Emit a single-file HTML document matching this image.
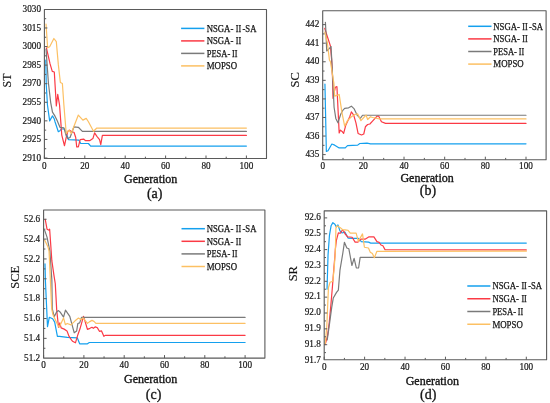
<!DOCTYPE html><html><head><meta charset="utf-8"><style>html,body{margin:0;padding:0;background:#fff;}svg{display:block;filter:blur(0.3px);}</style></head><body>
<svg width="550" height="403" viewBox="0 0 550 403" font-family='"Liberation Serif", serif' stroke-linejoin="round">
<style>text{stroke:#141414;stroke-width:0.2px;}.xl{stroke-width:0.35px}.ti{stroke-width:0.3px}.yl{stroke-width:0.15px}.lg{stroke-width:0.25px}</style>
<rect width="550" height="403" fill="#fff"/>
<g><polyline points="45.81,60.17 46.22,83.7 47.43,104.75 49.65,120.85 52.48,115.9 54.3,118.99 55,121.72 58.34,131.75 59.95,130.76 61.17,129.02 64.5,129.02 66.22,132.86 68.44,139.55 78.94,140.17 80.76,143.51 88.44,143.51 90.66,146.11 246.4,146.11" fill="none" stroke="#14a0ee" stroke-width="1.2" stroke-linejoin="round" stroke-linecap="round"/><polyline points="46.42,47.79 50.06,63.89 52.28,71.32 54.3,72.06 56.32,105.99 57.73,94.35 59.55,105 61.77,135.09 64.5,145.74 66.22,137.44 67.83,131.25 69.45,130.14 71.67,131.75 73.99,132.24 75.71,137.44 76.72,146.85 78.34,146.85 80.15,139.55 83.59,139.05 85.61,140.66 89.65,140.66 92.88,138.56 94.6,132.86 96.92,136.33 99.55,139.55 100.76,144.63 102.37,135.46 246.4,135.46" fill="none" stroke="#fb3a45" stroke-width="1.2" stroke-linejoin="round" stroke-linecap="round"/><polyline points="46.02,49.03 48.44,83.2 50.66,102.28 52.48,112.18 55,116.14 57.13,120.6 59.95,127.29 63.89,127.91 66.22,135.71 67.83,138.56 70.05,137.44 73.99,126.79 78.34,127.29 82.38,131.38 246.4,131.38" fill="none" stroke="#7a7a7a" stroke-width="1.2" stroke-linejoin="round" stroke-linecap="round"/><polyline points="46.02,24.01 47.63,47.79 49.65,46.8 53.89,38.5 56.32,41.72 58.34,64.63 60.36,82.46 62.38,83.45 63.89,105 66.22,133.48 69.04,130.14 71.27,133.48 73.99,126.17 78.34,115.03 82.88,120.11 86.21,118.37 88.44,121.72 93.49,131.25 96.82,128.03 246.4,128.03" fill="none" stroke="#fcc063" stroke-width="1.2" stroke-linejoin="round" stroke-linecap="round"/><rect x="44.4" y="9.5" width="222.1" height="149" fill="none" stroke="#5a5a5a" stroke-width="1.1"/><line x1="44.4" y1="158.5" x2="44.4" y2="155.5" stroke="#5a5a5a" stroke-width="1"/><text x="44.4" y="168.6" font-size="10.2" fill="#141414" text-anchor="middle" textLength="4.6" lengthAdjust="spacingAndGlyphs">0</text><line x1="64.6" y1="158.5" x2="64.6" y2="156.7" stroke="#5a5a5a" stroke-width="1"/><line x1="84.8" y1="158.5" x2="84.8" y2="155.5" stroke="#5a5a5a" stroke-width="1"/><text x="84.8" y="168.6" font-size="10.2" fill="#141414" text-anchor="middle" textLength="9.2" lengthAdjust="spacingAndGlyphs">20</text><line x1="105" y1="158.5" x2="105" y2="156.7" stroke="#5a5a5a" stroke-width="1"/><line x1="125.2" y1="158.5" x2="125.2" y2="155.5" stroke="#5a5a5a" stroke-width="1"/><text x="125.2" y="168.6" font-size="10.2" fill="#141414" text-anchor="middle" textLength="9.2" lengthAdjust="spacingAndGlyphs">40</text><line x1="145.4" y1="158.5" x2="145.4" y2="156.7" stroke="#5a5a5a" stroke-width="1"/><line x1="165.6" y1="158.5" x2="165.6" y2="155.5" stroke="#5a5a5a" stroke-width="1"/><text x="165.6" y="168.6" font-size="10.2" fill="#141414" text-anchor="middle" textLength="9.2" lengthAdjust="spacingAndGlyphs">60</text><line x1="185.8" y1="158.5" x2="185.8" y2="156.7" stroke="#5a5a5a" stroke-width="1"/><line x1="206" y1="158.5" x2="206" y2="155.5" stroke="#5a5a5a" stroke-width="1"/><text x="206" y="168.6" font-size="10.2" fill="#141414" text-anchor="middle" textLength="9.2" lengthAdjust="spacingAndGlyphs">80</text><line x1="226.2" y1="158.5" x2="226.2" y2="156.7" stroke="#5a5a5a" stroke-width="1"/><line x1="246.4" y1="158.5" x2="246.4" y2="155.5" stroke="#5a5a5a" stroke-width="1"/><text x="246.4" y="168.6" font-size="10.2" fill="#141414" text-anchor="middle" textLength="13.8" lengthAdjust="spacingAndGlyphs">100</text><line x1="44.4" y1="18.69" x2="46.2" y2="18.69" stroke="#5a5a5a" stroke-width="1"/><line x1="44.4" y1="27.98" x2="47.4" y2="27.98" stroke="#5a5a5a" stroke-width="1"/><line x1="44.4" y1="37.26" x2="46.2" y2="37.26" stroke="#5a5a5a" stroke-width="1"/><line x1="44.4" y1="46.55" x2="47.4" y2="46.55" stroke="#5a5a5a" stroke-width="1"/><line x1="44.4" y1="55.84" x2="46.2" y2="55.84" stroke="#5a5a5a" stroke-width="1"/><line x1="44.4" y1="65.12" x2="47.4" y2="65.12" stroke="#5a5a5a" stroke-width="1"/><line x1="44.4" y1="74.41" x2="46.2" y2="74.41" stroke="#5a5a5a" stroke-width="1"/><line x1="44.4" y1="83.7" x2="47.4" y2="83.7" stroke="#5a5a5a" stroke-width="1"/><line x1="44.4" y1="92.99" x2="46.2" y2="92.99" stroke="#5a5a5a" stroke-width="1"/><line x1="44.4" y1="102.28" x2="47.4" y2="102.28" stroke="#5a5a5a" stroke-width="1"/><line x1="44.4" y1="111.56" x2="46.2" y2="111.56" stroke="#5a5a5a" stroke-width="1"/><line x1="44.4" y1="120.85" x2="47.4" y2="120.85" stroke="#5a5a5a" stroke-width="1"/><line x1="44.4" y1="130.14" x2="46.2" y2="130.14" stroke="#5a5a5a" stroke-width="1"/><line x1="44.4" y1="139.43" x2="47.4" y2="139.43" stroke="#5a5a5a" stroke-width="1"/><line x1="44.4" y1="148.71" x2="46.2" y2="148.71" stroke="#5a5a5a" stroke-width="1"/><line x1="44.4" y1="158" x2="47.4" y2="158" stroke="#5a5a5a" stroke-width="1"/><text x="41" y="12.1" font-size="10.2" fill="#141414" text-anchor="end" textLength="18.4" lengthAdjust="spacingAndGlyphs">3030</text><text x="41" y="30.68" font-size="10.2" fill="#141414" text-anchor="end" textLength="18.4" lengthAdjust="spacingAndGlyphs">3015</text><text x="41" y="49.25" font-size="10.2" fill="#141414" text-anchor="end" textLength="18.4" lengthAdjust="spacingAndGlyphs">3000</text><text x="41" y="67.83" font-size="10.2" fill="#141414" text-anchor="end" textLength="18.4" lengthAdjust="spacingAndGlyphs">2985</text><text x="41" y="86.4" font-size="10.2" fill="#141414" text-anchor="end" textLength="18.4" lengthAdjust="spacingAndGlyphs">2970</text><text x="41" y="104.98" font-size="10.2" fill="#141414" text-anchor="end" textLength="18.4" lengthAdjust="spacingAndGlyphs">2955</text><text x="41" y="123.55" font-size="10.2" fill="#141414" text-anchor="end" textLength="18.4" lengthAdjust="spacingAndGlyphs">2940</text><text x="41" y="142.12" font-size="10.2" fill="#141414" text-anchor="end" textLength="18.4" lengthAdjust="spacingAndGlyphs">2925</text><text x="41" y="160.7" font-size="10.2" fill="#141414" text-anchor="end" textLength="18.4" lengthAdjust="spacingAndGlyphs">2910</text><text x="0" y="0" font-size="12.0" fill="#141414" text-anchor="middle" transform="translate(6.9,80.5) rotate(-90)" dy="4.3" class="yl">ST</text><text x="150.7" y="182.9" font-size="12.0" fill="#141414" text-anchor="middle" class="xl">Generation</text><text x="154.7" y="197.5" font-size="14.0" fill="#141414" text-anchor="middle" class="ti">(a)</text><line x1="181.1" y1="28.4" x2="204.4" y2="28.4" stroke="#14a0ee" stroke-width="1.5"/><text x="206.7" y="31.7" font-size="10.0" fill="#141414" textLength="26.6" lengthAdjust="spacingAndGlyphs" class="lg">NSGA-</text><text x="235.7" y="31.7" font-size="10.0" fill="#141414" textLength="5.4" lengthAdjust="spacingAndGlyphs" class="lg">II</text><text x="242.5" y="31.7" font-size="10.0" fill="#141414" textLength="13.9" lengthAdjust="spacingAndGlyphs" class="lg">-SA</text><line x1="181.1" y1="40.9" x2="204.4" y2="40.9" stroke="#fb3a45" stroke-width="1.5"/><text x="206.7" y="44.2" font-size="10.0" fill="#141414" textLength="26.6" lengthAdjust="spacingAndGlyphs" class="lg">NSGA-</text><text x="235.7" y="44.2" font-size="10.0" fill="#141414" textLength="5.4" lengthAdjust="spacingAndGlyphs" class="lg">II</text><line x1="181.1" y1="53.4" x2="204.4" y2="53.4" stroke="#7a7a7a" stroke-width="1.5"/><text x="206.7" y="56.7" font-size="10.0" fill="#141414" textLength="23.6" lengthAdjust="spacingAndGlyphs" class="lg">PESA-</text><text x="232.1" y="56.7" font-size="10.0" fill="#141414" textLength="5.4" lengthAdjust="spacingAndGlyphs" class="lg">II</text><line x1="181.1" y1="65.9" x2="204.4" y2="65.9" stroke="#fcc063" stroke-width="1.5"/><text x="206.7" y="69.2" font-size="10.0" fill="#141414" textLength="30.4" lengthAdjust="spacingAndGlyphs" class="lg">MOPSO</text></g>
<g><polyline points="324.94,84.05 326.36,151.46 327.99,150.72 331.85,144.03 334.69,145.15 339.17,147.93 345.27,147.93 347.5,145.7 357.67,145.15 359.8,143.48 367.02,143.1 370.48,143.85 526,143.85" fill="none" stroke="#14a0ee" stroke-width="1.2" stroke-linejoin="round" stroke-linecap="round"/><polyline points="324.73,28.34 330.43,45.98 331.65,59.91 332.46,75.7 333.01,98.35 335.3,87.21 336.93,86.65 339.17,132.89 340.39,130.11 342.42,131.78 343.64,133.45 345.88,124.91 349.74,116.73 351.37,111.91 353.7,115.06 355.94,122.86 358.07,133.45 361.53,134.93 363.77,134 365.39,126.76 367.63,124.53 369.87,123.98 372.51,121.19 377.08,116.18 378.61,115.99 381.45,121.75 385.52,123.42 526,123.42" fill="none" stroke="#fb3a45" stroke-width="1.2" stroke-linejoin="round" stroke-linecap="round"/><polyline points="325.4,22.4 325.95,32.24 326.71,51 329.21,48.58 331.04,46.54 331.85,61.77 333.01,84.98 334.08,107.26 335.81,118.41 337.95,122.86 340.79,113.95 343.03,110.05 344.66,108.38 348.62,107.82 351.37,106.15 354.21,108.94 357.06,115.06 360.31,118.41 362.55,115.25 526,115.25" fill="none" stroke="#7a7a7a" stroke-width="1.2" stroke-linejoin="round" stroke-linecap="round"/><polyline points="324.73,32.06 327.29,42.27 329.41,59.91 330.43,61.77 333.88,83.12 334.69,96.12 339.17,94.45 342.01,112.84 344.66,126.21 347.5,120.63 351.37,116.73 354.82,114.51 357.67,113.95 360.92,120.63 363.77,117.48 366,115.06 367.63,119.52 370.48,116.73 372.51,117.48 377.08,118.41 379.42,118.96 526,118.96" fill="none" stroke="#fcc063" stroke-width="1.2" stroke-linejoin="round" stroke-linecap="round"/><rect x="322.7" y="10.7" width="223.4" height="149" fill="none" stroke="#5a5a5a" stroke-width="1.1"/><line x1="322.7" y1="159.7" x2="322.7" y2="156.7" stroke="#5a5a5a" stroke-width="1"/><text x="322.7" y="169.4" font-size="10.2" fill="#141414" text-anchor="middle" textLength="4.6" lengthAdjust="spacingAndGlyphs">0</text><line x1="343.03" y1="159.7" x2="343.03" y2="157.9" stroke="#5a5a5a" stroke-width="1"/><line x1="363.36" y1="159.7" x2="363.36" y2="156.7" stroke="#5a5a5a" stroke-width="1"/><text x="363.36" y="169.4" font-size="10.2" fill="#141414" text-anchor="middle" textLength="9.2" lengthAdjust="spacingAndGlyphs">20</text><line x1="383.69" y1="159.7" x2="383.69" y2="157.9" stroke="#5a5a5a" stroke-width="1"/><line x1="404.02" y1="159.7" x2="404.02" y2="156.7" stroke="#5a5a5a" stroke-width="1"/><text x="404.02" y="169.4" font-size="10.2" fill="#141414" text-anchor="middle" textLength="9.2" lengthAdjust="spacingAndGlyphs">40</text><line x1="424.35" y1="159.7" x2="424.35" y2="157.9" stroke="#5a5a5a" stroke-width="1"/><line x1="444.68" y1="159.7" x2="444.68" y2="156.7" stroke="#5a5a5a" stroke-width="1"/><text x="444.68" y="169.4" font-size="10.2" fill="#141414" text-anchor="middle" textLength="9.2" lengthAdjust="spacingAndGlyphs">60</text><line x1="465.01" y1="159.7" x2="465.01" y2="157.9" stroke="#5a5a5a" stroke-width="1"/><line x1="485.34" y1="159.7" x2="485.34" y2="156.7" stroke="#5a5a5a" stroke-width="1"/><text x="485.34" y="169.4" font-size="10.2" fill="#141414" text-anchor="middle" textLength="9.2" lengthAdjust="spacingAndGlyphs">80</text><line x1="505.67" y1="159.7" x2="505.67" y2="157.9" stroke="#5a5a5a" stroke-width="1"/><line x1="526" y1="159.7" x2="526" y2="156.7" stroke="#5a5a5a" stroke-width="1"/><text x="526" y="169.4" font-size="10.2" fill="#141414" text-anchor="middle" textLength="13.8" lengthAdjust="spacingAndGlyphs">100</text><line x1="322.7" y1="24.63" x2="325.7" y2="24.63" stroke="#5a5a5a" stroke-width="1"/><line x1="322.7" y1="33.91" x2="324.5" y2="33.91" stroke="#5a5a5a" stroke-width="1"/><line x1="322.7" y1="43.2" x2="325.7" y2="43.2" stroke="#5a5a5a" stroke-width="1"/><line x1="322.7" y1="52.48" x2="324.5" y2="52.48" stroke="#5a5a5a" stroke-width="1"/><line x1="322.7" y1="61.77" x2="325.7" y2="61.77" stroke="#5a5a5a" stroke-width="1"/><line x1="322.7" y1="71.05" x2="324.5" y2="71.05" stroke="#5a5a5a" stroke-width="1"/><line x1="322.7" y1="80.34" x2="325.7" y2="80.34" stroke="#5a5a5a" stroke-width="1"/><line x1="322.7" y1="89.62" x2="324.5" y2="89.62" stroke="#5a5a5a" stroke-width="1"/><line x1="322.7" y1="98.91" x2="325.7" y2="98.91" stroke="#5a5a5a" stroke-width="1"/><line x1="322.7" y1="108.19" x2="324.5" y2="108.19" stroke="#5a5a5a" stroke-width="1"/><line x1="322.7" y1="117.48" x2="325.7" y2="117.48" stroke="#5a5a5a" stroke-width="1"/><line x1="322.7" y1="126.76" x2="324.5" y2="126.76" stroke="#5a5a5a" stroke-width="1"/><line x1="322.7" y1="136.05" x2="325.7" y2="136.05" stroke="#5a5a5a" stroke-width="1"/><line x1="322.7" y1="145.33" x2="324.5" y2="145.33" stroke="#5a5a5a" stroke-width="1"/><line x1="322.7" y1="154.62" x2="325.7" y2="154.62" stroke="#5a5a5a" stroke-width="1"/><text x="319.3" y="27.33" font-size="10.2" fill="#141414" text-anchor="end" textLength="13.8" lengthAdjust="spacingAndGlyphs">442</text><text x="319.3" y="45.9" font-size="10.2" fill="#141414" text-anchor="end" textLength="13.8" lengthAdjust="spacingAndGlyphs">441</text><text x="319.3" y="64.47" font-size="10.2" fill="#141414" text-anchor="end" textLength="13.8" lengthAdjust="spacingAndGlyphs">440</text><text x="319.3" y="83.04" font-size="10.2" fill="#141414" text-anchor="end" textLength="13.8" lengthAdjust="spacingAndGlyphs">439</text><text x="319.3" y="101.61" font-size="10.2" fill="#141414" text-anchor="end" textLength="13.8" lengthAdjust="spacingAndGlyphs">438</text><text x="319.3" y="120.18" font-size="10.2" fill="#141414" text-anchor="end" textLength="13.8" lengthAdjust="spacingAndGlyphs">437</text><text x="319.3" y="138.75" font-size="10.2" fill="#141414" text-anchor="end" textLength="13.8" lengthAdjust="spacingAndGlyphs">436</text><text x="319.3" y="157.32" font-size="10.2" fill="#141414" text-anchor="end" textLength="13.8" lengthAdjust="spacingAndGlyphs">435</text><text x="0" y="0" font-size="12.5" fill="#141414" text-anchor="middle" transform="translate(294.5,79.8) rotate(-90)" dy="4.3" class="yl">SC</text><text x="427.1" y="182" font-size="12.0" fill="#141414" text-anchor="middle" class="xl">Generation</text><text x="428" y="194.5" font-size="14.0" fill="#141414" text-anchor="middle" class="ti">(b)</text><line x1="468.2" y1="26.3" x2="491.5" y2="26.3" stroke="#14a0ee" stroke-width="1.5"/><text x="493.3" y="29.6" font-size="10.0" fill="#141414" textLength="26.6" lengthAdjust="spacingAndGlyphs" class="lg">NSGA-</text><text x="522.3" y="29.6" font-size="10.0" fill="#141414" textLength="5.4" lengthAdjust="spacingAndGlyphs" class="lg">II</text><text x="529.1" y="29.6" font-size="10.0" fill="#141414" textLength="13.9" lengthAdjust="spacingAndGlyphs" class="lg">-SA</text><line x1="468.2" y1="38.9" x2="491.5" y2="38.9" stroke="#fb3a45" stroke-width="1.5"/><text x="493.3" y="42.2" font-size="10.0" fill="#141414" textLength="26.6" lengthAdjust="spacingAndGlyphs" class="lg">NSGA-</text><text x="522.3" y="42.2" font-size="10.0" fill="#141414" textLength="5.4" lengthAdjust="spacingAndGlyphs" class="lg">II</text><line x1="468.2" y1="51.5" x2="491.5" y2="51.5" stroke="#7a7a7a" stroke-width="1.5"/><text x="493.3" y="54.8" font-size="10.0" fill="#141414" textLength="23.6" lengthAdjust="spacingAndGlyphs" class="lg">PESA-</text><text x="518.7" y="54.8" font-size="10.0" fill="#141414" textLength="5.4" lengthAdjust="spacingAndGlyphs" class="lg">II</text><line x1="468.2" y1="64.1" x2="491.5" y2="64.1" stroke="#fcc063" stroke-width="1.5"/><text x="493.3" y="67.4" font-size="10.0" fill="#141414" textLength="30.4" lengthAdjust="spacingAndGlyphs" class="lg">MOPSO</text></g>
<g><polyline points="45.01,263.91 45.41,280.79 47.51,326.64 49.3,317.31 52.67,318.7 54.68,322.17 57.4,336.36 59.52,336.36 67.38,337.36 77.25,337.85 79.67,343.81 87.43,343.81 89.34,342.52 245.1,342.52" fill="none" stroke="#14a0ee" stroke-width="1.2" stroke-linejoin="round" stroke-linecap="round"/><polyline points="45.21,219.25 47.03,229.18 49.04,230.17 49.65,229.18 51.86,260.94 53.88,274.83 55.29,283.76 56.7,309.87 58.51,327.23 59.82,322.87 61.13,327.93 64.15,329.12 66.97,330.91 69.09,336.46 71.61,340.04 72.92,341.53 75.44,342.82 77.86,334.68 79.99,328.82 83.5,316.42 85.51,322.87 87.43,329.32 89.95,328.33 91.96,327.33 93.37,328.33 95.39,326.84 97.4,327.83 99.42,331.3 101.43,330.81 103.85,336.36 105.26,335.37 245.1,335.37" fill="none" stroke="#fb3a45" stroke-width="1.2" stroke-linejoin="round" stroke-linecap="round"/><polyline points="44.61,230.17 47.03,237.11 49.85,251.01 51.86,279.79 52.26,308.57 54.2,316.71 56.7,311.75 58.51,310.56 60.53,312.55 63.55,317.11 65.46,310.06 69.8,316.32 74.23,332.79 76.65,331.01 77.86,323.46 79.67,322.87 81.48,317.41 245.1,317.41" fill="none" stroke="#7a7a7a" stroke-width="1.2" stroke-linejoin="round" stroke-linecap="round"/><polyline points="44.61,240.09 48.03,247.04 49.04,251.01 50.85,290.71 51.66,308.57 52.97,314.83 57.3,324.06 59.22,327.23 63.55,317.9 65.36,324.65 67.18,323.46 71,324.85 74.83,321.08 78.46,318 80.98,319.79 82.89,317.9 85.92,321.38 87.43,323.36 89.34,321.87 91.96,320.39 93.97,321.38 95.89,323.36 245.1,323.36" fill="none" stroke="#fcc063" stroke-width="1.2" stroke-linejoin="round" stroke-linecap="round"/><rect x="43.6" y="210" width="221.3" height="148.1" fill="none" stroke="#5a5a5a" stroke-width="1.1"/><line x1="43.6" y1="358.1" x2="43.6" y2="355.1" stroke="#5a5a5a" stroke-width="1"/><text x="43.6" y="367.8" font-size="10.2" fill="#141414" text-anchor="middle" textLength="4.6" lengthAdjust="spacingAndGlyphs">0</text><line x1="63.75" y1="358.1" x2="63.75" y2="356.3" stroke="#5a5a5a" stroke-width="1"/><line x1="83.9" y1="358.1" x2="83.9" y2="355.1" stroke="#5a5a5a" stroke-width="1"/><text x="83.9" y="367.8" font-size="10.2" fill="#141414" text-anchor="middle" textLength="9.2" lengthAdjust="spacingAndGlyphs">20</text><line x1="104.05" y1="358.1" x2="104.05" y2="356.3" stroke="#5a5a5a" stroke-width="1"/><line x1="124.2" y1="358.1" x2="124.2" y2="355.1" stroke="#5a5a5a" stroke-width="1"/><text x="124.2" y="367.8" font-size="10.2" fill="#141414" text-anchor="middle" textLength="9.2" lengthAdjust="spacingAndGlyphs">40</text><line x1="144.35" y1="358.1" x2="144.35" y2="356.3" stroke="#5a5a5a" stroke-width="1"/><line x1="164.5" y1="358.1" x2="164.5" y2="355.1" stroke="#5a5a5a" stroke-width="1"/><text x="164.5" y="367.8" font-size="10.2" fill="#141414" text-anchor="middle" textLength="9.2" lengthAdjust="spacingAndGlyphs">60</text><line x1="184.65" y1="358.1" x2="184.65" y2="356.3" stroke="#5a5a5a" stroke-width="1"/><line x1="204.8" y1="358.1" x2="204.8" y2="355.1" stroke="#5a5a5a" stroke-width="1"/><text x="204.8" y="367.8" font-size="10.2" fill="#141414" text-anchor="middle" textLength="9.2" lengthAdjust="spacingAndGlyphs">80</text><line x1="224.95" y1="358.1" x2="224.95" y2="356.3" stroke="#5a5a5a" stroke-width="1"/><line x1="245.1" y1="358.1" x2="245.1" y2="355.1" stroke="#5a5a5a" stroke-width="1"/><text x="245.1" y="367.8" font-size="10.2" fill="#141414" text-anchor="middle" textLength="13.8" lengthAdjust="spacingAndGlyphs">100</text><line x1="43.6" y1="219.25" x2="46.6" y2="219.25" stroke="#5a5a5a" stroke-width="1"/><line x1="43.6" y1="229.18" x2="45.4" y2="229.18" stroke="#5a5a5a" stroke-width="1"/><line x1="43.6" y1="239.1" x2="46.6" y2="239.1" stroke="#5a5a5a" stroke-width="1"/><line x1="43.6" y1="249.02" x2="45.4" y2="249.02" stroke="#5a5a5a" stroke-width="1"/><line x1="43.6" y1="258.95" x2="46.6" y2="258.95" stroke="#5a5a5a" stroke-width="1"/><line x1="43.6" y1="268.88" x2="45.4" y2="268.88" stroke="#5a5a5a" stroke-width="1"/><line x1="43.6" y1="278.8" x2="46.6" y2="278.8" stroke="#5a5a5a" stroke-width="1"/><line x1="43.6" y1="288.73" x2="45.4" y2="288.73" stroke="#5a5a5a" stroke-width="1"/><line x1="43.6" y1="298.65" x2="46.6" y2="298.65" stroke="#5a5a5a" stroke-width="1"/><line x1="43.6" y1="308.57" x2="45.4" y2="308.57" stroke="#5a5a5a" stroke-width="1"/><line x1="43.6" y1="318.5" x2="46.6" y2="318.5" stroke="#5a5a5a" stroke-width="1"/><line x1="43.6" y1="328.43" x2="45.4" y2="328.43" stroke="#5a5a5a" stroke-width="1"/><line x1="43.6" y1="338.35" x2="46.6" y2="338.35" stroke="#5a5a5a" stroke-width="1"/><line x1="43.6" y1="348.27" x2="45.4" y2="348.27" stroke="#5a5a5a" stroke-width="1"/><text x="40.2" y="221.95" font-size="10.2" fill="#141414" text-anchor="end" textLength="16.1" lengthAdjust="spacingAndGlyphs">52.6</text><text x="40.2" y="241.8" font-size="10.2" fill="#141414" text-anchor="end" textLength="16.1" lengthAdjust="spacingAndGlyphs">52.4</text><text x="40.2" y="261.65" font-size="10.2" fill="#141414" text-anchor="end" textLength="16.1" lengthAdjust="spacingAndGlyphs">52.2</text><text x="40.2" y="281.5" font-size="10.2" fill="#141414" text-anchor="end" textLength="16.1" lengthAdjust="spacingAndGlyphs">52.0</text><text x="40.2" y="301.35" font-size="10.2" fill="#141414" text-anchor="end" textLength="16.1" lengthAdjust="spacingAndGlyphs">51.8</text><text x="40.2" y="321.2" font-size="10.2" fill="#141414" text-anchor="end" textLength="16.1" lengthAdjust="spacingAndGlyphs">51.6</text><text x="40.2" y="341.05" font-size="10.2" fill="#141414" text-anchor="end" textLength="16.1" lengthAdjust="spacingAndGlyphs">51.4</text><text x="40.2" y="360.9" font-size="10.2" fill="#141414" text-anchor="end" textLength="16.1" lengthAdjust="spacingAndGlyphs">51.2</text><text x="0" y="0" font-size="12.5" fill="#141414" text-anchor="middle" transform="translate(14.5,277.2) rotate(-90)" dy="4.3" class="yl">SCE</text><text x="150.7" y="382.9" font-size="12.0" fill="#141414" text-anchor="middle" class="xl">Generation</text><text x="153.6" y="398.5" font-size="14.0" fill="#141414" text-anchor="middle" class="ti">(c)</text><line x1="181.5" y1="228.7" x2="204.9" y2="228.7" stroke="#14a0ee" stroke-width="1.5"/><text x="206.7" y="232" font-size="10.0" fill="#141414" textLength="26.6" lengthAdjust="spacingAndGlyphs" class="lg">NSGA-</text><text x="235.7" y="232" font-size="10.0" fill="#141414" textLength="5.4" lengthAdjust="spacingAndGlyphs" class="lg">II</text><text x="242.5" y="232" font-size="10.0" fill="#141414" textLength="13.9" lengthAdjust="spacingAndGlyphs" class="lg">-SA</text><line x1="181.5" y1="241.3" x2="204.9" y2="241.3" stroke="#fb3a45" stroke-width="1.5"/><text x="206.7" y="244.6" font-size="10.0" fill="#141414" textLength="26.6" lengthAdjust="spacingAndGlyphs" class="lg">NSGA-</text><text x="235.7" y="244.6" font-size="10.0" fill="#141414" textLength="5.4" lengthAdjust="spacingAndGlyphs" class="lg">II</text><line x1="181.5" y1="253.9" x2="204.9" y2="253.9" stroke="#7a7a7a" stroke-width="1.5"/><text x="206.7" y="257.2" font-size="10.0" fill="#141414" textLength="23.6" lengthAdjust="spacingAndGlyphs" class="lg">PESA-</text><text x="232.1" y="257.2" font-size="10.0" fill="#141414" textLength="5.4" lengthAdjust="spacingAndGlyphs" class="lg">II</text><line x1="181.5" y1="266.5" x2="204.9" y2="266.5" stroke="#fcc063" stroke-width="1.5"/><text x="206.7" y="269.8" font-size="10.0" fill="#141414" textLength="30.4" lengthAdjust="spacingAndGlyphs" class="lg">MOPSO</text></g>
<g><polyline points="327.03,289.22 328.04,254.99 329.45,235.33 331.07,225.82 332.89,222.66 334.91,224.24 336.33,226.93 337.94,224.87 339.96,230.9 341.88,232.96 345.02,232.16 348.05,238.03 352.39,238.35 358.35,238.35 361.39,241.67 368.66,242.15 370.68,243.1 526.3,243.1" fill="none" stroke="#14a0ee" stroke-width="1.2" stroke-linejoin="round" stroke-linecap="round"/><polyline points="325.21,344.7 327.64,335.19 329.25,322.51 330.87,305.07 332.49,286.05 333.9,267.83 334.91,255.94 335.32,249.6 336.33,240.72 338.35,232.96 340.37,233.27 342.39,229.95 343.8,231.37 345.02,233.75 347.64,236.92 352.09,237.24 355.12,242.15 357.95,242.15 360.98,239.14 365.02,239.14 368.66,236.92 373.92,236.92 376.95,241.67 379.17,242.31 380.99,245 382.91,245.8 385.03,249.6 526.3,249.92" fill="none" stroke="#fb3a45" stroke-width="1.2" stroke-linejoin="round" stroke-linecap="round"/><polyline points="327.23,339.94 329.25,325.68 331.68,307.61 333.29,297.94 336.53,292.39 338.35,290.02 339.96,270.2 342.89,252.77 344.41,242.31 346.84,248.01 348.86,248.81 351.89,265.45 354.11,258.32 356.33,267.99 358.56,267.99 360.17,257.37 526.3,257.37" fill="none" stroke="#7a7a7a" stroke-width="1.2" stroke-linejoin="round" stroke-linecap="round"/><polyline points="325.21,343.91 326.83,325.68 328.44,287.64 330.06,282.25 332.89,281.3 334.41,264.97 335.32,251.98 335.92,227.89 336.93,225.82 339.96,227.41 343,229.95 345.02,229.79 348.05,230.26 350.27,233.12 356.13,233.12 358.35,241.36 362.5,233.91 364.42,247.22 368.46,248.01 370.28,252.14 372.4,253.56 374.32,257.68 376.95,251.34 526.3,251.18" fill="none" stroke="#fcc063" stroke-width="1.2" stroke-linejoin="round" stroke-linecap="round"/><rect x="324.2" y="210.9" width="222.4" height="148.8" fill="none" stroke="#5a5a5a" stroke-width="1.1"/><line x1="324.2" y1="359.7" x2="324.2" y2="356.7" stroke="#5a5a5a" stroke-width="1"/><text x="324.2" y="370" font-size="10.2" fill="#141414" text-anchor="middle" textLength="4.6" lengthAdjust="spacingAndGlyphs">0</text><line x1="344.41" y1="359.7" x2="344.41" y2="357.9" stroke="#5a5a5a" stroke-width="1"/><line x1="364.62" y1="359.7" x2="364.62" y2="356.7" stroke="#5a5a5a" stroke-width="1"/><text x="364.62" y="370" font-size="10.2" fill="#141414" text-anchor="middle" textLength="9.2" lengthAdjust="spacingAndGlyphs">20</text><line x1="384.83" y1="359.7" x2="384.83" y2="357.9" stroke="#5a5a5a" stroke-width="1"/><line x1="405.04" y1="359.7" x2="405.04" y2="356.7" stroke="#5a5a5a" stroke-width="1"/><text x="405.04" y="370" font-size="10.2" fill="#141414" text-anchor="middle" textLength="9.2" lengthAdjust="spacingAndGlyphs">40</text><line x1="425.25" y1="359.7" x2="425.25" y2="357.9" stroke="#5a5a5a" stroke-width="1"/><line x1="445.46" y1="359.7" x2="445.46" y2="356.7" stroke="#5a5a5a" stroke-width="1"/><text x="445.46" y="370" font-size="10.2" fill="#141414" text-anchor="middle" textLength="9.2" lengthAdjust="spacingAndGlyphs">60</text><line x1="465.67" y1="359.7" x2="465.67" y2="357.9" stroke="#5a5a5a" stroke-width="1"/><line x1="485.88" y1="359.7" x2="485.88" y2="356.7" stroke="#5a5a5a" stroke-width="1"/><text x="485.88" y="370" font-size="10.2" fill="#141414" text-anchor="middle" textLength="9.2" lengthAdjust="spacingAndGlyphs">80</text><line x1="506.09" y1="359.7" x2="506.09" y2="357.9" stroke="#5a5a5a" stroke-width="1"/><line x1="526.3" y1="359.7" x2="526.3" y2="356.7" stroke="#5a5a5a" stroke-width="1"/><text x="526.3" y="370" font-size="10.2" fill="#141414" text-anchor="middle" textLength="13.8" lengthAdjust="spacingAndGlyphs">100</text><line x1="324.2" y1="217.9" x2="327.2" y2="217.9" stroke="#5a5a5a" stroke-width="1"/><line x1="324.2" y1="225.82" x2="326" y2="225.82" stroke="#5a5a5a" stroke-width="1"/><line x1="324.2" y1="233.75" x2="327.2" y2="233.75" stroke="#5a5a5a" stroke-width="1"/><line x1="324.2" y1="241.68" x2="326" y2="241.68" stroke="#5a5a5a" stroke-width="1"/><line x1="324.2" y1="249.6" x2="327.2" y2="249.6" stroke="#5a5a5a" stroke-width="1"/><line x1="324.2" y1="257.52" x2="326" y2="257.52" stroke="#5a5a5a" stroke-width="1"/><line x1="324.2" y1="265.45" x2="327.2" y2="265.45" stroke="#5a5a5a" stroke-width="1"/><line x1="324.2" y1="273.37" x2="326" y2="273.37" stroke="#5a5a5a" stroke-width="1"/><line x1="324.2" y1="281.3" x2="327.2" y2="281.3" stroke="#5a5a5a" stroke-width="1"/><line x1="324.2" y1="289.23" x2="326" y2="289.23" stroke="#5a5a5a" stroke-width="1"/><line x1="324.2" y1="297.15" x2="327.2" y2="297.15" stroke="#5a5a5a" stroke-width="1"/><line x1="324.2" y1="305.07" x2="326" y2="305.07" stroke="#5a5a5a" stroke-width="1"/><line x1="324.2" y1="313" x2="327.2" y2="313" stroke="#5a5a5a" stroke-width="1"/><line x1="324.2" y1="320.93" x2="326" y2="320.93" stroke="#5a5a5a" stroke-width="1"/><line x1="324.2" y1="328.85" x2="327.2" y2="328.85" stroke="#5a5a5a" stroke-width="1"/><line x1="324.2" y1="336.77" x2="326" y2="336.77" stroke="#5a5a5a" stroke-width="1"/><line x1="324.2" y1="344.7" x2="327.2" y2="344.7" stroke="#5a5a5a" stroke-width="1"/><line x1="324.2" y1="352.62" x2="326" y2="352.62" stroke="#5a5a5a" stroke-width="1"/><text x="320.8" y="220.1" font-size="10.2" fill="#141414" text-anchor="end" textLength="16.1" lengthAdjust="spacingAndGlyphs">92.6</text><text x="320.8" y="235.95" font-size="10.2" fill="#141414" text-anchor="end" textLength="16.1" lengthAdjust="spacingAndGlyphs">92.5</text><text x="320.8" y="251.8" font-size="10.2" fill="#141414" text-anchor="end" textLength="16.1" lengthAdjust="spacingAndGlyphs">92.4</text><text x="320.8" y="267.65" font-size="10.2" fill="#141414" text-anchor="end" textLength="16.1" lengthAdjust="spacingAndGlyphs">92.3</text><text x="320.8" y="283.5" font-size="10.2" fill="#141414" text-anchor="end" textLength="16.1" lengthAdjust="spacingAndGlyphs">92.2</text><text x="320.8" y="299.35" font-size="10.2" fill="#141414" text-anchor="end" textLength="16.1" lengthAdjust="spacingAndGlyphs">92.1</text><text x="320.8" y="315.2" font-size="10.2" fill="#141414" text-anchor="end" textLength="16.1" lengthAdjust="spacingAndGlyphs">92.0</text><text x="320.8" y="331.05" font-size="10.2" fill="#141414" text-anchor="end" textLength="16.1" lengthAdjust="spacingAndGlyphs">91.9</text><text x="320.8" y="346.9" font-size="10.2" fill="#141414" text-anchor="end" textLength="16.1" lengthAdjust="spacingAndGlyphs">91.8</text><text x="320.8" y="362.75" font-size="10.2" fill="#141414" text-anchor="end" textLength="16.1" lengthAdjust="spacingAndGlyphs">91.7</text><text x="0" y="0" font-size="12.5" fill="#141414" text-anchor="middle" transform="translate(292.9,273.7) rotate(-90)" dy="4.3" class="yl">SR</text><text x="432.3" y="385.1" font-size="12.0" fill="#141414" text-anchor="middle" class="xl">Generation</text><text x="428.2" y="398.5" font-size="14.0" fill="#141414" text-anchor="middle" class="ti">(d)</text><line x1="467.3" y1="286" x2="490.4" y2="286" stroke="#14a0ee" stroke-width="1.5"/><text x="492.4" y="289.3" font-size="10.0" fill="#141414" textLength="26.6" lengthAdjust="spacingAndGlyphs" class="lg">NSGA-</text><text x="521.4" y="289.3" font-size="10.0" fill="#141414" textLength="5.4" lengthAdjust="spacingAndGlyphs" class="lg">II</text><text x="528.2" y="289.3" font-size="10.0" fill="#141414" textLength="13.9" lengthAdjust="spacingAndGlyphs" class="lg">-SA</text><line x1="467.3" y1="298.75" x2="490.4" y2="298.75" stroke="#fb3a45" stroke-width="1.5"/><text x="492.4" y="302.05" font-size="10.0" fill="#141414" textLength="26.6" lengthAdjust="spacingAndGlyphs" class="lg">NSGA-</text><text x="521.4" y="302.05" font-size="10.0" fill="#141414" textLength="5.4" lengthAdjust="spacingAndGlyphs" class="lg">II</text><line x1="467.3" y1="311.5" x2="490.4" y2="311.5" stroke="#7a7a7a" stroke-width="1.5"/><text x="492.4" y="314.8" font-size="10.0" fill="#141414" textLength="23.6" lengthAdjust="spacingAndGlyphs" class="lg">PESA-</text><text x="517.8" y="314.8" font-size="10.0" fill="#141414" textLength="5.4" lengthAdjust="spacingAndGlyphs" class="lg">II</text><line x1="467.3" y1="324.25" x2="490.4" y2="324.25" stroke="#fcc063" stroke-width="1.5"/><text x="492.4" y="327.55" font-size="10.0" fill="#141414" textLength="30.4" lengthAdjust="spacingAndGlyphs" class="lg">MOPSO</text></g>
</svg></body></html>
